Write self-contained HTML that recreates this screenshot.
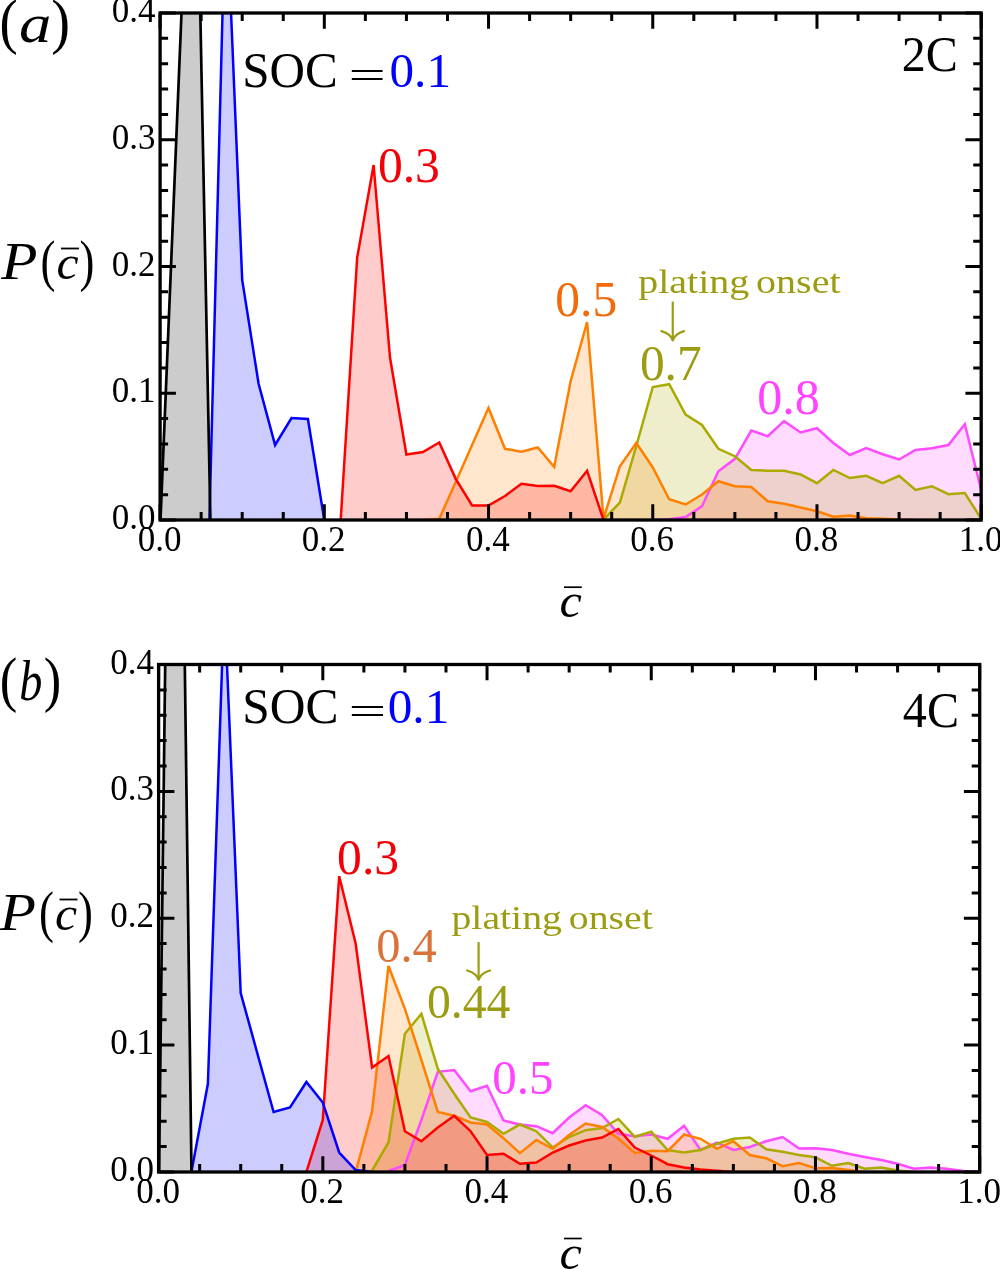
<!DOCTYPE html>
<html lang="en"><head><meta charset="utf-8"><title>P(c) distributions at 2C and 4C</title>
<style>
html,body{margin:0;padding:0;background:#fff;}
svg{display:block;}
text{font-family:"Liberation Serif","DejaVu Serif",serif;font-kerning:none;font-variant-ligatures:none;}
.tk{font-size:34.3px;}
.lb{font-size:46px;}
.po{font-size:34px;}
.it{font-style:italic;}
</style></head><body>
<svg width="1000" height="1269" viewBox="0 0 1000 1269">
<rect width="1000" height="1269" fill="#fff"/>
<g>
<clipPath id="cp1"><rect x="160.10" y="13.00" width="821.10" height="507.00"/></clipPath>
<g clip-path="url(#cp1)">
<polygon points="652.8,520.0 652.8,520.0 669.2,519.3 685.6,517.0 702.0,506.2 718.4,471.2 734.9,458.8 751.3,430.5 767.7,436.2 784.1,421.2 800.6,432.5 817.0,428.2 833.4,443.0 849.8,455.0 866.2,448.0 882.7,454.2 899.1,459.5 915.5,450.0 931.9,448.2 948.4,445.0 964.8,424.2 981.2,490.0 981.2,520.0" fill="#FF4BFF" fill-opacity="0.2" stroke="none"/>
<polygon points="603.5,520.0 603.5,519.5 619.9,502.5 636.3,446.0 652.8,387.0 669.2,384.2 685.6,414.5 702.0,425.0 718.4,448.8 734.9,456.2 751.3,470.0 767.7,470.8 784.1,470.8 800.6,474.5 817.0,483.2 833.4,470.0 849.8,478.0 866.2,475.8 882.7,483.2 899.1,475.8 915.5,490.0 931.9,486.2 948.4,494.2 964.8,493.0 981.2,518.8 981.2,520.0" fill="#AAAA00" fill-opacity="0.2" stroke="none"/>
<polygon points="422.9,520.0 422.9,520.0 439.3,518.8 455.7,482.0 472.1,445.0 488.5,408.0 505.0,448.8 521.4,451.8 537.8,447.5 554.2,467.0 570.6,381.2 587.1,322.0 603.5,518.8 619.9,466.2 636.3,443.0 652.8,467.5 669.2,499.2 685.6,504.5 702.0,494.5 718.4,481.2 734.9,486.2 751.3,487.0 767.7,501.2 784.1,503.8 800.6,507.5 817.0,511.2 833.4,516.8 849.8,515.5 866.2,518.2 882.7,518.8 899.1,519.5 915.5,520.0 915.5,520.0" fill="#FF8000" fill-opacity="0.2" stroke="none"/>
<polygon points="340.7,520.0 340.7,520.0 357.2,257.5 373.6,165.0 390.0,357.5 406.4,454.5 422.9,452.0 439.3,442.5 455.7,478.8 472.1,505.5 488.5,505.5 505.0,496.0 521.4,483.8 537.8,486.0 554.2,485.8 570.6,491.2 587.1,470.8 603.5,520.0 603.5,520.0" fill="#FF0000" fill-opacity="0.2" stroke="none"/>
<polygon points="209.4,520.0 209.4,520.0 225.8,-113.0 242.2,280.0 258.6,383.8 275.1,445.0 291.5,418.0 307.9,419.0 324.3,520.0 324.3,520.0" fill="#0000FF" fill-opacity="0.2" stroke="none"/>
<polygon points="160.5,520.0 160.5,520.0 181.5,13.0 181.9,-10.0 199.8,-10.0 200.3,13.0 210.4,520.0 210.4,520.0" fill="#000000" fill-opacity="0.2" stroke="none"/>
<polyline points="652.8,520.0 669.2,519.3 685.6,517.0 702.0,506.2 718.4,471.2 734.9,458.8 751.3,430.5 767.7,436.2 784.1,421.2 800.6,432.5 817.0,428.2 833.4,443.0 849.8,455.0 866.2,448.0 882.7,454.2 899.1,459.5 915.5,450.0 931.9,448.2 948.4,445.0 964.8,424.2 981.2,490.0" fill="none" stroke="#FF4BFF" stroke-width="2.5" stroke-linejoin="miter" stroke-miterlimit="4"/>
<polyline points="603.5,519.5 619.9,502.5 636.3,446.0 652.8,387.0 669.2,384.2 685.6,414.5 702.0,425.0 718.4,448.8 734.9,456.2 751.3,470.0 767.7,470.8 784.1,470.8 800.6,474.5 817.0,483.2 833.4,470.0 849.8,478.0 866.2,475.8 882.7,483.2 899.1,475.8 915.5,490.0 931.9,486.2 948.4,494.2 964.8,493.0 981.2,518.8" fill="none" stroke="#AAAA00" stroke-width="2.5" stroke-linejoin="miter" stroke-miterlimit="4"/>
<polyline points="422.9,520.0 439.3,518.8 455.7,482.0 472.1,445.0 488.5,408.0 505.0,448.8 521.4,451.8 537.8,447.5 554.2,467.0 570.6,381.2 587.1,322.0 603.5,518.8 619.9,466.2 636.3,443.0 652.8,467.5 669.2,499.2 685.6,504.5 702.0,494.5 718.4,481.2 734.9,486.2 751.3,487.0 767.7,501.2 784.1,503.8 800.6,507.5 817.0,511.2 833.4,516.8 849.8,515.5 866.2,518.2 882.7,518.8 899.1,519.5 915.5,520.0" fill="none" stroke="#FF8000" stroke-width="2.5" stroke-linejoin="miter" stroke-miterlimit="4"/>
<polyline points="340.7,520.0 357.2,257.5 373.6,165.0 390.0,357.5 406.4,454.5 422.9,452.0 439.3,442.5 455.7,478.8 472.1,505.5 488.5,505.5 505.0,496.0 521.4,483.8 537.8,486.0 554.2,485.8 570.6,491.2 587.1,470.8 603.5,520.0" fill="none" stroke="#FF0000" stroke-width="2.5" stroke-linejoin="miter" stroke-miterlimit="4"/>
<polyline points="209.4,520.0 225.8,-113.0 242.2,280.0 258.6,383.8 275.1,445.0 291.5,418.0 307.9,419.0 324.3,520.0" fill="none" stroke="#0000FF" stroke-width="2.5" stroke-linejoin="miter" stroke-miterlimit="4"/>
<polyline points="160.5,520.0 181.5,13.0 181.9,-10.0 199.8,-10.0 200.3,13.0 210.4,520.0" fill="none" stroke="#000000" stroke-width="2.7" stroke-linejoin="miter" stroke-miterlimit="4"/>
</g>
<path d="M160.10 520.00v-15.8M160.10 13.00v15.8M201.16 520.00v-8.0M201.16 13.00v8.0M242.21 520.00v-8.0M242.21 13.00v8.0M283.26 520.00v-8.0M283.26 13.00v8.0M324.32 520.00v-15.8M324.32 13.00v15.8M365.38 520.00v-8.0M365.38 13.00v8.0M406.43 520.00v-8.0M406.43 13.00v8.0M447.49 520.00v-8.0M447.49 13.00v8.0M488.54 520.00v-15.8M488.54 13.00v15.8M529.60 520.00v-8.0M529.60 13.00v8.0M570.65 520.00v-8.0M570.65 13.00v8.0M611.71 520.00v-8.0M611.71 13.00v8.0M652.76 520.00v-15.8M652.76 13.00v15.8M693.82 520.00v-8.0M693.82 13.00v8.0M734.87 520.00v-8.0M734.87 13.00v8.0M775.93 520.00v-8.0M775.93 13.00v8.0M816.98 520.00v-15.8M816.98 13.00v15.8M858.04 520.00v-8.0M858.04 13.00v8.0M899.09 520.00v-8.0M899.09 13.00v8.0M940.15 520.00v-8.0M940.15 13.00v8.0M981.20 520.00v-15.8M981.20 13.00v15.8M160.10 520.00h15.8M981.20 520.00h-15.8M160.10 494.65h8.0M981.20 494.65h-8.0M160.10 469.30h8.0M981.20 469.30h-8.0M160.10 443.95h8.0M981.20 443.95h-8.0M160.10 418.60h8.0M981.20 418.60h-8.0M160.10 393.25h15.8M981.20 393.25h-15.8M160.10 367.90h8.0M981.20 367.90h-8.0M160.10 342.55h8.0M981.20 342.55h-8.0M160.10 317.20h8.0M981.20 317.20h-8.0M160.10 291.85h8.0M981.20 291.85h-8.0M160.10 266.50h15.8M981.20 266.50h-15.8M160.10 241.15h8.0M981.20 241.15h-8.0M160.10 215.80h8.0M981.20 215.80h-8.0M160.10 190.45h8.0M981.20 190.45h-8.0M160.10 165.10h8.0M981.20 165.10h-8.0M160.10 139.75h15.8M981.20 139.75h-15.8M160.10 114.40h8.0M981.20 114.40h-8.0M160.10 89.05h8.0M981.20 89.05h-8.0M160.10 63.70h8.0M981.20 63.70h-8.0M160.10 38.35h8.0M981.20 38.35h-8.0M160.10 13.00h15.8M981.20 13.00h-15.8" stroke="#000" stroke-width="3.0" fill="none"/>
<rect x="160.10" y="13.00" width="821.10" height="507.00" fill="none" stroke="#000" stroke-width="3.3"/>
<text transform="translate(159.50 550.65) scale(0.35)" font-size="100" text-anchor="middle">0.0</text>
<text transform="translate(323.72 550.65) scale(0.35)" font-size="100" text-anchor="middle">0.2</text>
<text transform="translate(487.94 550.65) scale(0.35)" font-size="100" text-anchor="middle">0.4</text>
<text transform="translate(652.16 550.65) scale(0.35)" font-size="100" text-anchor="middle">0.6</text>
<text transform="translate(816.38 550.65) scale(0.35)" font-size="100" text-anchor="middle">0.8</text>
<text transform="translate(980.60 550.65) scale(0.35)" font-size="100" text-anchor="middle">1.0</text>
<text transform="translate(155.60 529.00) scale(0.35)" font-size="100" text-anchor="end">0.0</text>
<text transform="translate(155.60 402.25) scale(0.35)" font-size="100" text-anchor="end">0.1</text>
<text transform="translate(155.60 275.50) scale(0.35)" font-size="100" text-anchor="end">0.2</text>
<text transform="translate(155.60 148.75) scale(0.35)" font-size="100" text-anchor="end">0.3</text>
<text transform="translate(155.60 22.00) scale(0.35)" font-size="100" text-anchor="end">0.4</text>
<text transform="matrix(0.5451 0 0 0.6231 -0.40 41.73)" font-size="100">(</text>
<text transform="matrix(0.6472 0 0 0.5510 19.07 41.74)" font-size="100" font-style="italic">a</text>
<text transform="matrix(0.5646 0 0 0.6231 51.18 41.73)" font-size="100">)</text>
<text transform="matrix(0.5924 0 0 0.5193 1.32 279.00)" font-size="100" font-style="italic">P</text>
<text transform="matrix(0.4478 0 0 0.5625 40.53 280.03)" font-size="100">(</text>
<text transform="matrix(0.4971 0 0 0.4782 56.47 279.03)" font-size="100" font-style="italic">c</text>
<text transform="matrix(0.4478 0 0 0.5625 79.56 280.03)" font-size="100">)</text>
<path d="M61.0 248.5H79.0" stroke="#000" stroke-width="1.8"/>
<text transform="matrix(0.4909 0 0 0.5016 242.22 86.81)" font-size="100">SOC</text>
<text transform="matrix(0.6619 0 0 0.3960 348.50 88.70)" font-size="100">=</text>
<text transform="matrix(0.4914 0 0 0.4903 389.53 86.81)" font-size="100" fill="#0000FF">0.1</text>
<text transform="matrix(0.4962 0 0 0.4976 377.91 182.10)" font-size="100" fill="#F20008">0.3</text>
<text transform="matrix(0.4945 0 0 0.4976 555.32 316.10)" font-size="100" fill="#F26A0A">0.5</text>
<text transform="matrix(0.4936 0 0 0.4976 639.92 380.10)" font-size="100" fill="#9C9C12">0.7</text>
<text transform="matrix(0.5009 0 0 0.4976 757.29 413.70)" font-size="100" fill="#FF44FF">0.8</text>
<text transform="matrix(0.4813 0 0 0.5001 901.68 71.11)" font-size="100">2C</text>
<text transform="matrix(0.4005 0 0 0.3452 0 292.55)" font-size="100" fill="#9C9C12"><tspan x="1593.43">plating </tspan><tspan x="1887.86">onset</tspan></text>
<path d="M672.75 301.6V340.4" stroke="#9C9C12" stroke-width="2.2" fill="none"/><path d="M661.4 331.1C667.8 333.1 671.8 336.9 672.75 340.4C673.8 336.9 677.8 333.1 684.1 331.1" stroke="#9C9C12" stroke-width="2.2" fill="none" stroke-linecap="round" stroke-linejoin="round"/>
<text transform="matrix(0.5021 0 0 0.4782 559.46 617.33)" font-size="100" font-style="italic">c</text><path d="M564 587.2H581.8" stroke="#000" stroke-width="1.7"/>
</g>
<g>
<clipPath id="cp2"><rect x="158.60" y="664.50" width="821.10" height="507.50"/></clipPath>
<g clip-path="url(#cp2)">
<polygon points="388.5,1172.0 388.5,1171.0 404.9,1165.0 421.4,1120.0 437.8,1071.8 454.2,1070.0 470.6,1091.2 487.0,1085.8 503.5,1120.5 519.9,1124.5 536.3,1126.2 552.7,1133.2 569.1,1117.5 585.6,1105.2 602.0,1115.0 618.4,1133.8 634.8,1136.2 651.3,1134.5 667.7,1138.8 684.1,1125.8 700.5,1150.0 716.9,1142.5 733.4,1150.0 749.8,1147.0 766.2,1141.2 782.6,1137.0 799.1,1148.5 815.5,1148.2 831.9,1150.0 848.3,1153.8 864.7,1157.0 881.2,1160.0 897.6,1163.8 914.0,1168.8 930.4,1167.5 946.9,1168.8 963.3,1171.0 979.7,1172.0 979.7,1172.0" fill="#FF4BFF" fill-opacity="0.2" stroke="none"/>
<polygon points="372.1,1172.0 372.1,1170.5 388.5,1142.5 404.9,1033.8 421.4,1013.8 437.8,1068.8 454.2,1093.8 470.6,1117.5 487.0,1122.0 503.5,1133.8 519.9,1124.5 536.3,1131.2 552.7,1147.5 569.1,1137.0 585.6,1130.2 602.0,1128.0 618.4,1119.0 634.8,1136.8 651.3,1131.8 667.7,1150.0 684.1,1152.5 700.5,1150.0 716.9,1143.8 733.4,1138.8 749.8,1137.5 766.2,1149.2 782.6,1151.8 799.1,1155.0 815.5,1157.3 831.9,1165.8 848.3,1163.0 864.7,1168.8 881.2,1167.5 897.6,1170.5 914.0,1172.0 914.0,1172.0" fill="#AAAA00" fill-opacity="0.2" stroke="none"/>
<polygon points="355.7,1172.0 355.7,1172.0 372.1,1111.2 388.5,966.0 404.9,1008.8 421.4,1060.0 437.8,1112.0 454.2,1115.8 470.6,1122.5 487.0,1124.5 503.5,1138.2 519.9,1153.2 536.3,1140.0 552.7,1148.8 569.1,1135.0 585.6,1123.5 602.0,1127.0 618.4,1138.5 634.8,1153.0 651.3,1150.8 667.7,1151.2 684.1,1134.5 700.5,1138.8 716.9,1148.8 733.4,1141.2 749.8,1155.0 766.2,1158.3 782.6,1166.2 799.1,1163.0 815.5,1168.3 831.9,1168.0 848.3,1170.0 864.7,1172.0 864.7,1172.0" fill="#FF8000" fill-opacity="0.2" stroke="none"/>
<polygon points="306.4,1172.0 306.4,1172.0 322.8,1120.0 339.2,876.2 355.7,943.8 372.1,1067.5 388.5,1056.0 404.9,1131.2 421.4,1141.2 437.8,1127.5 454.2,1115.8 470.6,1131.2 487.0,1155.0 503.5,1153.8 519.9,1163.8 536.3,1162.5 552.7,1152.5 569.1,1145.5 585.6,1140.5 602.0,1137.5 618.4,1129.0 634.8,1147.5 651.3,1155.5 667.7,1164.2 684.1,1167.5 700.5,1169.5 716.9,1170.8 733.4,1172.0 733.4,1172.0" fill="#FF0000" fill-opacity="0.2" stroke="none"/>
<polygon points="191.4,1172.0 191.4,1172.0 207.9,1083.8 224.3,600.0 240.7,993.0 257.1,1052.5 273.6,1112.0 290.0,1107.5 306.4,1082.0 322.8,1102.5 339.2,1152.5 355.7,1170.0 372.1,1172.0 372.1,1172.0" fill="#0000FF" fill-opacity="0.2" stroke="none"/>
<polygon points="159.0,1172.0 159.0,1172.0 165.2,664.5 165.4,640.0 184.4,640.0 184.8,664.5 191.5,1172.0 191.5,1172.0" fill="#000000" fill-opacity="0.2" stroke="none"/>
<polyline points="388.5,1171.0 404.9,1165.0 421.4,1120.0 437.8,1071.8 454.2,1070.0 470.6,1091.2 487.0,1085.8 503.5,1120.5 519.9,1124.5 536.3,1126.2 552.7,1133.2 569.1,1117.5 585.6,1105.2 602.0,1115.0 618.4,1133.8 634.8,1136.2 651.3,1134.5 667.7,1138.8 684.1,1125.8 700.5,1150.0 716.9,1142.5 733.4,1150.0 749.8,1147.0 766.2,1141.2 782.6,1137.0 799.1,1148.5 815.5,1148.2 831.9,1150.0 848.3,1153.8 864.7,1157.0 881.2,1160.0 897.6,1163.8 914.0,1168.8 930.4,1167.5 946.9,1168.8 963.3,1171.0 979.7,1172.0" fill="none" stroke="#FF4BFF" stroke-width="2.5" stroke-linejoin="miter" stroke-miterlimit="4"/>
<polyline points="372.1,1170.5 388.5,1142.5 404.9,1033.8 421.4,1013.8 437.8,1068.8 454.2,1093.8 470.6,1117.5 487.0,1122.0 503.5,1133.8 519.9,1124.5 536.3,1131.2 552.7,1147.5 569.1,1137.0 585.6,1130.2 602.0,1128.0 618.4,1119.0 634.8,1136.8 651.3,1131.8 667.7,1150.0 684.1,1152.5 700.5,1150.0 716.9,1143.8 733.4,1138.8 749.8,1137.5 766.2,1149.2 782.6,1151.8 799.1,1155.0 815.5,1157.3 831.9,1165.8 848.3,1163.0 864.7,1168.8 881.2,1167.5 897.6,1170.5 914.0,1172.0" fill="none" stroke="#AAAA00" stroke-width="2.5" stroke-linejoin="miter" stroke-miterlimit="4"/>
<polyline points="355.7,1172.0 372.1,1111.2 388.5,966.0 404.9,1008.8 421.4,1060.0 437.8,1112.0 454.2,1115.8 470.6,1122.5 487.0,1124.5 503.5,1138.2 519.9,1153.2 536.3,1140.0 552.7,1148.8 569.1,1135.0 585.6,1123.5 602.0,1127.0 618.4,1138.5 634.8,1153.0 651.3,1150.8 667.7,1151.2 684.1,1134.5 700.5,1138.8 716.9,1148.8 733.4,1141.2 749.8,1155.0 766.2,1158.3 782.6,1166.2 799.1,1163.0 815.5,1168.3 831.9,1168.0 848.3,1170.0 864.7,1172.0" fill="none" stroke="#FF8000" stroke-width="2.5" stroke-linejoin="miter" stroke-miterlimit="4"/>
<polyline points="306.4,1172.0 322.8,1120.0 339.2,876.2 355.7,943.8 372.1,1067.5 388.5,1056.0 404.9,1131.2 421.4,1141.2 437.8,1127.5 454.2,1115.8 470.6,1131.2 487.0,1155.0 503.5,1153.8 519.9,1163.8 536.3,1162.5 552.7,1152.5 569.1,1145.5 585.6,1140.5 602.0,1137.5 618.4,1129.0 634.8,1147.5 651.3,1155.5 667.7,1164.2 684.1,1167.5 700.5,1169.5 716.9,1170.8 733.4,1172.0" fill="none" stroke="#FF0000" stroke-width="2.5" stroke-linejoin="miter" stroke-miterlimit="4"/>
<polyline points="191.4,1172.0 207.9,1083.8 224.3,600.0 240.7,993.0 257.1,1052.5 273.6,1112.0 290.0,1107.5 306.4,1082.0 322.8,1102.5 339.2,1152.5 355.7,1170.0 372.1,1172.0" fill="none" stroke="#0000FF" stroke-width="2.5" stroke-linejoin="miter" stroke-miterlimit="4"/>
<polyline points="159.0,1172.0 165.2,664.5 165.4,640.0 184.4,640.0 184.8,664.5 191.5,1172.0" fill="none" stroke="#000000" stroke-width="2.7" stroke-linejoin="miter" stroke-miterlimit="4"/>
</g>
<path d="M158.60 1172.00v-15.8M158.60 664.50v15.8M199.66 1172.00v-8.0M199.66 664.50v8.0M240.71 1172.00v-8.0M240.71 664.50v8.0M281.76 1172.00v-8.0M281.76 664.50v8.0M322.82 1172.00v-15.8M322.82 664.50v15.8M363.88 1172.00v-8.0M363.88 664.50v8.0M404.93 1172.00v-8.0M404.93 664.50v8.0M445.99 1172.00v-8.0M445.99 664.50v8.0M487.04 1172.00v-15.8M487.04 664.50v15.8M528.10 1172.00v-8.0M528.10 664.50v8.0M569.15 1172.00v-8.0M569.15 664.50v8.0M610.21 1172.00v-8.0M610.21 664.50v8.0M651.26 1172.00v-15.8M651.26 664.50v15.8M692.32 1172.00v-8.0M692.32 664.50v8.0M733.37 1172.00v-8.0M733.37 664.50v8.0M774.43 1172.00v-8.0M774.43 664.50v8.0M815.48 1172.00v-15.8M815.48 664.50v15.8M856.54 1172.00v-8.0M856.54 664.50v8.0M897.59 1172.00v-8.0M897.59 664.50v8.0M938.65 1172.00v-8.0M938.65 664.50v8.0M979.70 1172.00v-15.8M979.70 664.50v15.8M158.60 1172.00h15.8M979.70 1172.00h-15.8M158.60 1146.62h8.0M979.70 1146.62h-8.0M158.60 1121.25h8.0M979.70 1121.25h-8.0M158.60 1095.88h8.0M979.70 1095.88h-8.0M158.60 1070.50h8.0M979.70 1070.50h-8.0M158.60 1045.12h15.8M979.70 1045.12h-15.8M158.60 1019.75h8.0M979.70 1019.75h-8.0M158.60 994.38h8.0M979.70 994.38h-8.0M158.60 969.00h8.0M979.70 969.00h-8.0M158.60 943.62h8.0M979.70 943.62h-8.0M158.60 918.25h15.8M979.70 918.25h-15.8M158.60 892.88h8.0M979.70 892.88h-8.0M158.60 867.50h8.0M979.70 867.50h-8.0M158.60 842.12h8.0M979.70 842.12h-8.0M158.60 816.75h8.0M979.70 816.75h-8.0M158.60 791.38h15.8M979.70 791.38h-15.8M158.60 766.00h8.0M979.70 766.00h-8.0M158.60 740.62h8.0M979.70 740.62h-8.0M158.60 715.25h8.0M979.70 715.25h-8.0M158.60 689.88h8.0M979.70 689.88h-8.0M158.60 664.50h15.8M979.70 664.50h-15.8" stroke="#000" stroke-width="3.0" fill="none"/>
<rect x="158.60" y="664.50" width="821.10" height="507.50" fill="none" stroke="#000" stroke-width="3.3"/>
<text transform="translate(158.00 1202.65) scale(0.35)" font-size="100" text-anchor="middle">0.0</text>
<text transform="translate(322.22 1202.65) scale(0.35)" font-size="100" text-anchor="middle">0.2</text>
<text transform="translate(486.44 1202.65) scale(0.35)" font-size="100" text-anchor="middle">0.4</text>
<text transform="translate(650.66 1202.65) scale(0.35)" font-size="100" text-anchor="middle">0.6</text>
<text transform="translate(814.88 1202.65) scale(0.35)" font-size="100" text-anchor="middle">0.8</text>
<text transform="translate(979.10 1202.65) scale(0.35)" font-size="100" text-anchor="middle">1.0</text>
<text transform="translate(154.10 1181.00) scale(0.35)" font-size="100" text-anchor="end">0.0</text>
<text transform="translate(154.10 1054.12) scale(0.35)" font-size="100" text-anchor="end">0.1</text>
<text transform="translate(154.10 927.25) scale(0.35)" font-size="100" text-anchor="end">0.2</text>
<text transform="translate(154.10 800.38) scale(0.35)" font-size="100" text-anchor="end">0.3</text>
<text transform="translate(154.10 673.50) scale(0.35)" font-size="100" text-anchor="end">0.4</text>
<text transform="matrix(0.5256 0 0 0.6176 -0.31 699.85)" font-size="100">(</text>
<text transform="matrix(0.4623 0 0 0.5728 19.28 699.74)" font-size="100" font-style="italic">b</text>
<text transform="matrix(0.5256 0 0 0.6176 43.81 699.85)" font-size="100">)</text>
<text transform="matrix(0.5924 0 0 0.5193 -0.18 930.00)" font-size="100" font-style="italic">P</text>
<text transform="matrix(0.4478 0 0 0.5625 39.03 931.03)" font-size="100">(</text>
<text transform="matrix(0.4971 0 0 0.4782 54.97 930.03)" font-size="100" font-style="italic">c</text>
<text transform="matrix(0.4478 0 0 0.5625 78.06 931.03)" font-size="100">)</text>
<path d="M59.5 899.5H77.5" stroke="#000" stroke-width="1.8"/>
<text transform="matrix(0.4947 0 0 0.4971 242.19 722.81)" font-size="100">SOC</text>
<text transform="matrix(0.6705 0 0 0.3840 348.46 724.15)" font-size="100">=</text>
<text transform="matrix(0.4931 0 0 0.4873 387.72 722.81)" font-size="100" fill="#0000FF">0.1</text>
<text transform="matrix(0.4962 0 0 0.5006 337.11 874.29)" font-size="100" fill="#F20008">0.3</text>
<text transform="matrix(0.4848 0 0 0.4859 376.15 961.91)" font-size="100" fill="#D9733A">0.4</text>
<text transform="matrix(0.4769 0 0 0.4785 426.88 1017.72)" font-size="100" fill="#9C9C12">0.44</text>
<text transform="matrix(0.4894 0 0 0.4903 492.34 1094.41)" font-size="100" fill="#FF44FF">0.5</text>
<text transform="matrix(0.4816 0 0 0.5031 902.86 727.31)" font-size="100">4C</text>
<text transform="matrix(0.3980 0 0 0.3474 0 929.10)" font-size="100" fill="#9C9C12"><tspan x="1134.33">plating </tspan><tspan x="1429.12">onset</tspan></text>
<path d="M478.60 942.1V979.8" stroke="#9C9C12" stroke-width="2.2" fill="none"/><path d="M467.2 970.5C473.6 972.5 477.6 976.3 478.60 979.8C479.6 976.3 483.6 972.5 490.0 970.5" stroke="#9C9C12" stroke-width="2.2" fill="none" stroke-linecap="round" stroke-linejoin="round"/>
<text transform="matrix(0.5021 0 0 0.4782 559.46 1268.63)" font-size="100" font-style="italic">c</text><path d="M564 1238.5H581.8" stroke="#000" stroke-width="1.7"/>
</g>
</svg>
</body></html>
